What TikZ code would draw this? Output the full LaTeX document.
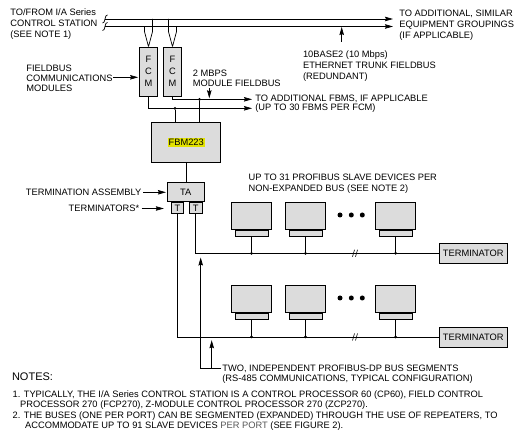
\documentclass[tikz,border=0pt]{standalone}
\usepackage{fontspec}
\setmainfont{Liberation Sans}
\usetikzlibrary{arrows.meta,positioning}
\definecolor{unitfill}{HTML}{DCDCDC}
\definecolor{tagyellow}{HTML}{E2E200}
\definecolor{notegray}{HTML}{555555}

\begin{document}
\begin{tikzpicture}[
  x=1pt,
  y=-1pt,
  every node/.style={font=\fontsize{9.3}{11}\selectfont, inner sep=0pt},
  >={Stealth[length=8pt,width=4.5pt,inset=1pt]},
  line width=0.7pt,
  unitbox/.style={draw, fill=unitfill, line width=0.7pt},
  lbl/.style={align=left, anchor=north west},
  busdot/.style={circle, fill, minimum size=3pt},
  moredot/.style={circle, fill, minimum size=5pt}
]
  \useasboundingbox (0,0) rectangle (523,438);

  % redundant trunk
  \coordinate (trunkA0) at (105,19);
  \coordinate (trunkB0) at (105,26.5);
  \coordinate (trunkA1) at (393,19);
  \coordinate (trunkB1) at (393,26.5);
  \draw[->] (trunkA0) -- (trunkA1);
  \draw[->] (trunkB0) -- (trunkB1);
  \draw (102.5,23) .. controls (105.5,24) and (104.5,14) .. (107.5,15);
  \draw (102.5,30.5) .. controls (105.5,31.5) and (104.5,21.5) .. (107.5,22.5);

  \node[lbl] (station) at (10,8.5) {TO/FROM I/A Series\\CONTROL STATION\\(SEE NOTE 1)};
  \node[lbl] (groupings) at (399,9.5) {TO ADDITIONAL, SIMILAR\\EQUIPMENT GROUPINGS\\(IF APPLICABLE)};
  \node[lbl] (trunklbl) at (302.7,50.1) {10BASE2 (10 Mbps)\\ETHERNET TRUNK FIELDBUS\\(REDUNDANT)};
  \coordinate (trunktail) at (341.7,42);
  \draw[->, shorten >=0.5pt] (trunktail) -- (trunktail |- trunkB0);

  % fieldbus communications modules
  \node[unitbox, minimum width=18pt, minimum height=49pt, align=center,
        font=\fontsize{9.3}{12}\selectfont] (fcmA) at (148.5,71.5) {F\\C\\M};
  \node[unitbox, minimum width=18pt, minimum height=49pt, align=center,
        font=\fontsize{9.3}{12}\selectfont] (fcmB) at (172.5,71.5) {F\\C\\M};
  \draw (fcmA.north) -- ++(-4,-15) coordinate (fcmAl) -- (fcmAl |- trunkB0)
        (fcmA.north) -- ++(4,-15) coordinate (fcmAr) -- (fcmAr |- trunkA0);
  \draw (fcmB.north) -- ++(-4,-15) coordinate (fcmBl) -- (fcmBl |- trunkA0)
        (fcmB.north) -- ++(4,-15) coordinate (fcmBr) -- (fcmBr |- trunkB0);

  \node[lbl, font=\fontsize{9.3}{10}\selectfont] (fcmlbl) at (26,64.8) {FIELDBUS\\COMMUNICATIONS\\MODULES};
  \coordinate (fcmtail) at (113,77.3);
  \draw[->, shorten >=1pt] (fcmtail) -- (fcmtail -| fcmA.west);

  \node[lbl, font=\fontsize{9.3}{10}\selectfont] (modbus) at (192.5,70.1) {2 MBPS\\MODULE FIELDBUS};

  \node[anchor=west] (fbmsA) at (255,99.3) {TO ADDITIONAL FBMS, IF APPLICABLE};
  \node[anchor=west] (fbmsB) at (255,108.3) {(UP TO 30 FBMS PER FCM)};
  \draw[->, shorten >=3pt] (fcmB.south) |- (fbmsA.west);
  \draw[->, shorten >=3pt] (fcmA.south) |- (fbmsB.west);
  \coordinate (modtail) at (209.3,88.5);
  \draw[->, shorten >=1pt] (modtail) -- (modtail |- fbmsA.west);

  % FBM and termination assembly
  \node[busdot] (tapA) at (175,108.3) {};
  \node[busdot] (tapB) at (199.5,99.3) {};
  \node[unitbox, minimum width=69pt, minimum height=40pt] (fbm) at (186.2,142.3) {};
  \node[fill=tagyellow, inner sep=1pt] (fbmtag) at (fbm) {FBM223};
  \draw (tapA) -- (tapA |- fbm.north);
  \draw (tapB) -- (tapB |- fbm.north);

  \node[unitbox, minimum width=37pt, minimum height=19.5pt] (ta) at (185.8,192) {TA};
  \node[unitbox, minimum width=11.6pt, minimum height=11.6pt, anchor=north] (tA) at (177.5,201.75) {T};
  \node[unitbox, minimum width=13pt, minimum height=11.6pt, anchor=north] (tB) at (195.8,201.75) {T};
  \draw (fbm.south) -- (fbm.south |- ta.north);

  \node[anchor=east] (talbl) at (141.7,192.3) {TERMINATION ASSEMBLY};
  \node[anchor=east] (tlbl) at (139.5,208.5) {TERMINATORS*};
  \draw[->, shorten <=1.5pt, shorten >=1pt] (talbl.east) -- (talbl.east -| ta.west);
  \draw[->, shorten <=2pt, shorten >=7.5pt] (tlbl.east) -- (tlbl.east -| tA.west);

  % PROFIBUS segments
  \node[lbl] (slaveslbl) at (248.3,173.5) {UP TO 31 PROFIBUS SLAVE DEVICES PER\\NON-EXPANDED BUS (SEE NOTE 2)};

  \node[unitbox, minimum width=67.5pt, minimum height=20pt] (termA) at (473.3,253.3) {TERMINATOR};
  \node[unitbox, minimum width=67.5pt, minimum height=20pt] (termB) at (473.3,337) {TERMINATOR};
  \draw (tB.south) |- (termA.west);
  \draw (tA.south) |- (termB.west);

  \foreach \n/\x in {1/251.5,2/305.5,3/395.7}{
    \node[unitbox, minimum width=40pt, minimum height=27pt] (devA\n) at (\x,215.7) {};
    \node[unitbox, minimum width=33pt, minimum height=6pt, below=0pt of devA\n] (baseA\n) {};
    \draw (baseA\n.south) -- (baseA\n.south |- termA.west) node[busdot] (dropA\n) {};
    \node[unitbox, minimum width=40pt, minimum height=27pt] (devB\n) at (\x,299.3) {};
    \node[unitbox, minimum width=33pt, minimum height=6pt, below=0pt of devB\n] (baseB\n) {};
    \draw (baseB\n.south) -- (baseB\n.south |- termB.west) node[busdot] (dropB\n) {};
  }
  \foreach \n/\x in {1/340,2/351.3,3/362.3}{
    \node[moredot] (moreA\n) at (\x,215) {};
    \node[moredot] (moreB\n) at (\x,298) {};
  }
  \foreach \y in {253.3,337}{
    \draw[line width=0.6pt] (352.5,\y+3.5) -- (354.5,\y-3.5);
    \draw[line width=0.6pt] (355.5,\y+3.5) -- (357.5,\y-3.5);
  }

  \node[lbl, font=\fontsize{9.3}{10.6}\selectfont] (seglbl) at (222,364.5) {TWO, INDEPENDENT PROFIBUS-DP BUS SEGMENTS\\(RS-485 COMMUNICATIONS, TYPICAL CONFIGURATION)};
  \coordinate (segstart) at (221,368.3);
  \coordinate (segtipA) at (200.7,257.5);
  \coordinate (segtipB) at (211.7,340.2);
  \draw[->] (segstart) -| (segtipA);
  \draw[->] (segtipB |- segstart) -- (segtipB);

  % notes
  \node[lbl, font=\fontsize{11}{13}\selectfont] (notes) at (11.7,372.8) {NOTES:};
  \node[lbl, font=\fontsize{9.3}{10}\selectfont] (noteA) at (12.3,390.1) {1. TYPICALLY, THE I/A Series CONTROL STATION IS A CONTROL PROCESSOR 60 (CP60), FIELD CONTROL\\\hspace*{7.5pt}PROCESSOR 270 (FCP270), Z-MODULE CONTROL PROCESSOR 270 (ZCP270).};
  \node[lbl, font=\fontsize{9.3}{10}\selectfont] (noteB) at (12.3,411.8) {2. THE BUSES (ONE PER PORT) CAN BE SEGMENTED (EXPANDED) THROUGH THE USE OF REPEATERS, TO\\\hspace*{12.5pt}ACCOMMODATE UP TO 91 SLAVE DEVICES {\color{notegray}PER PORT} (SEE FIGURE 2).};
\end{tikzpicture}
\end{document}
